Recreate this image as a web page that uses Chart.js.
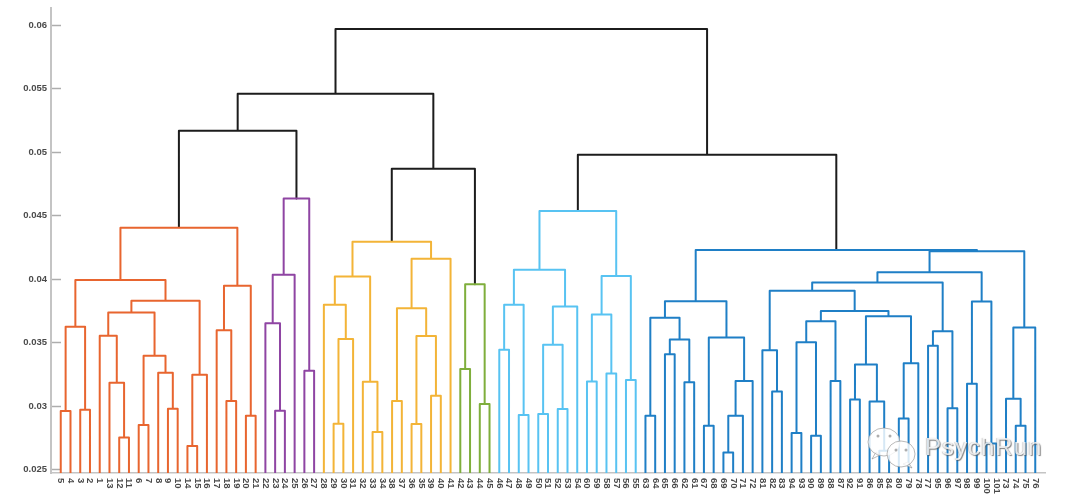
<!DOCTYPE html>
<html>
<head>
<meta charset="utf-8">
<script src="https://cdn.jsdelivr.net/npm/chart.js@4"></script>
<style>
  body { margin: 0; background: #fff; }
  #wrap { position: relative; width: 1080px; height: 500px; }
  #mark { position: absolute; left: 925px; top: 433px; font: 24px "Liberation Sans", sans-serif; letter-spacing: 1px;
          color: rgba(255,255,255,.8); text-shadow: 1px 1px 1px rgba(80,80,80,.7), -1px 0 1px rgba(120,120,120,.35); }
  #bubbles { position: absolute; left: 866px; top: 426px; }
</style>
</head>
<body>
<div id="wrap">
  <canvas id="chart" width="1080" height="500"></canvas>
  <svg id="bubbles" width="52" height="46" viewBox="0 0 52 46">
    <g fill="rgba(255,255,255,.82)" stroke="rgba(130,130,130,.55)" stroke-width="1">
      <path d="M10 26 L6 33 L14 29 Z"/>
      <ellipse cx="18" cy="16" rx="16" ry="14"/>
      <path d="M42 36 L46 42 L37 38 Z"/>
      <ellipse cx="35" cy="28" rx="14" ry="13"/>
    </g>
    <g fill="rgba(120,120,120,.6)">
      <circle cx="12" cy="10" r="1.5"/><circle cx="24" cy="10" r="1.5"/>
      <circle cx="30" cy="24" r="1.5"/><circle cx="40" cy="24" r="1.5"/>
    </g>
  </svg>
  <div id="mark">PsychRun</div>
</div>
<script>
const leafLabels = [5,4,3,2,1,13,12,11,6,7,8,9,10,14,15,16,17,18,19,20,21,22,23,24,25,26,27,
  28,29,30,31,32,33,34,38,37,36,35,39,40,41,42,43,44,45,46,47,48,49,50,51,52,53,54,
  60,59,58,57,56,55,63,64,65,66,62,61,67,68,69,70,71,72,81,82,83,94,93,90,89,88,87,
  92,91,86,85,84,80,79,78,77,95,96,97,98,99,100,101,73,74,75,76];
const yTicks = [0.025, 0.03, 0.035, 0.04, 0.045, 0.05, 0.055, 0.06];

// links: [left, right, height]. positive = leaf position, negative = earlier row in the same list (1 based)
const orangeLinks = [[1,2,.02962],[3,4,.02972],[-1,-2,.03625],[7,8,.02754],[6,-4,.03185],[5,-5,.03555],
  [9,10,.02852],[12,13,.0298],[11,-8,.03263],[-7,-9,.03397],[-6,-10,.03738],[14,15,.02686],[-12,16,.03248],
  [-11,-13,.0383],[-3,-14,.03993],[18,19,.0304],[17,-16,.03597],[20,21,.02925],[-17,-18,.03948],[-15,-19,.04404]];
const purpleLinks = [[23,24,.02964],[22,-1,.03652],[-2,25,.04035],[26,27,.03279],[-3,-4,.04634]];
const yellowLinks = [[29,30,.02862],[-1,31,.03528],[28,-2,.03799],[33,34,.02796],[32,-4,.03193],[-3,-5,.04021],
  [35,36,.0304],[37,38,.02859],[39,40,.03082],[-8,-9,.03552],[-7,-10,.0377],[-11,41,.0416],[-6,-12,.04294]];
const greenLinks = [[42,43,.03292],[44,45,.03017],[-1,-2,.03959]];
const cyanLinks = [[46,47,.03444],[48,49,.0293],[-1,-2,.03799],[50,51,.02938],[52,53,.02977],[-4,-5,.03484],
  [-6,54,.03785],[-3,-7,.04074],[55,56,.03195],[57,58,.03258],[-9,-10,.03722],[59,60,.03206],[-11,-12,.04024],[-8,-13,.04536]];
const blueLinks = [[61,62,.02924],[63,64,.03409],[65,66,.03189],[-2,-3,.03525],[-1,-4,.03695],[67,68,.02845],
  [69,70,.02635],[-7,71,.02924],[-8,72,.03199],[-6,-9,.0354],[-5,-10,.03826],
  [74,75,.03115],[73,-12,.03441],[76,77,.02788],[78,79,.02767],[-14,-15,.03504],[80,81,.03199],[-16,-17,.03669],
  [82,83,.03052],[85,86,.0265],[84,-20,.03037],[-19,-21,.03328],[87,88,.02903],[-23,89,.03338],[-22,-24,.03708],
  [-18,-25,.0375],[-13,-26,.03908],[90,91,.03475],[92,93,.02984],[-28,-29,.0359],[-27,-30,.03973],
  [94,95,.03176],[96,97,.02706],[-32,-33,.03824],[-31,-34,.04055],[99,100,.02845],[98,-36,.03058],[-37,101,.03619],
  [-35,-38,.0422],[-11,-39,.0423]];
// top of the tree, strings are the roots of the coloured clusters
const blackLinks = [["orange","purple",.05168],["yellow","green",.04868],[-1,-2,.0546],["cyan","blue",.04979],[-3,-4,.05968]];

const yMin = 0.02474, yMax = 0.06134;
const roots = {};

function buildPoints(links, rootName) {
  const nodes = [];
  const points = [];
  const child = (c) => {
    if (typeof c === "string") return roots[c];
    if (c < 0) return nodes[-c - 1];
    return { x: c, y: yMin };
  };
  links.forEach(([a, b, h]) => {
    const l = child(a), r = child(b);
    points.push({ x: l.x, y: l.y }, { x: l.x, y: h }, { x: r.x, y: h }, { x: r.x, y: r.y }, { x: NaN, y: NaN });
    nodes.push({ x: (l.x + r.x) / 2, y: h });
  });
  if (rootName) roots[rootName] = nodes[nodes.length - 1];
  return points;
}

function series(points, color) {
  return { data: points, borderColor: color, borderWidth: 2, pointRadius: 0, showLine: true,
           spanGaps: false, borderJoinStyle: "round", tension: 0 };
}

const datasets = [
  series(buildPoints(orangeLinks, "orange"), "#e8652f"),
  series(buildPoints(purpleLinks, "purple"), "#8f45a3"),
  series(buildPoints(yellowLinks, "yellow"), "#f3b437"),
  series(buildPoints(greenLinks, "green"), "#7fae3c"),
  series(buildPoints(cyanLinks, "cyan"), "#58c3f2"),
  series(buildPoints(blueLinks, "blue"), "#1f7fc6"),
];
datasets.push(series(buildPoints(blackLinks), "#1c1c1c"));

const labelFont = { family: "'Liberation Sans', Arial, sans-serif", size: 9.5, weight: "bold" };

// the plot box is fixed, no room kept for half tick labels
function noPadding(s) {
  s.paddingTop = s.paddingBottom = s.paddingLeft = s.paddingRight = 0;
}

new Chart(document.getElementById("chart"), {
  type: "scatter",
  data: { datasets },
  options: {
    responsive: false,
    animation: false,
    layout: { padding: { top: 8, right: 35, left: 0, bottom: 0 } },
    plugins: { legend: { display: false }, tooltip: { enabled: false } },
    scales: {
      x: {
        type: "linear",
        min: 0,
        max: 102,
        grid: { display: false, drawTicks: false },
        border: { color: "#c4c4c4", width: 1.5 },
        beforeUpdate(s) { s._getXAxisLabelAlignment = () => "left"; }, // labels hang down from the axis
        afterBuildTicks(s) { s.ticks = leafLabels.map((_, i) => ({ value: i + 1 })); },
        afterFit(s) { s.height = 27; noPadding(s); },
        ticks: {
          autoSkip: false,
          minRotation: -90,
          maxRotation: -90,
          padding: 5,
          color: "#4a4a4a",
          font: labelFont,
          callback: (v) => String(leafLabels[v - 1]),
        },
      },
      y: {
        min: yMin,
        max: yMax,
        grid: { drawOnChartArea: false, tickLength: -10, tickColor: "#adadad", tickWidth: 1.5 },
        border: { color: "#c4c4c4", width: 2 },
        afterBuildTicks(s) { s.ticks = yTicks.map((v) => ({ value: v })); },
        afterFit(s) { s.width = 51; noPadding(s); },
        ticks: { padding: 14, color: "#4a4a4a", font: labelFont, callback: (v) => String(v) },
      },
    },
  },
});
</script>
</body>
</html>
